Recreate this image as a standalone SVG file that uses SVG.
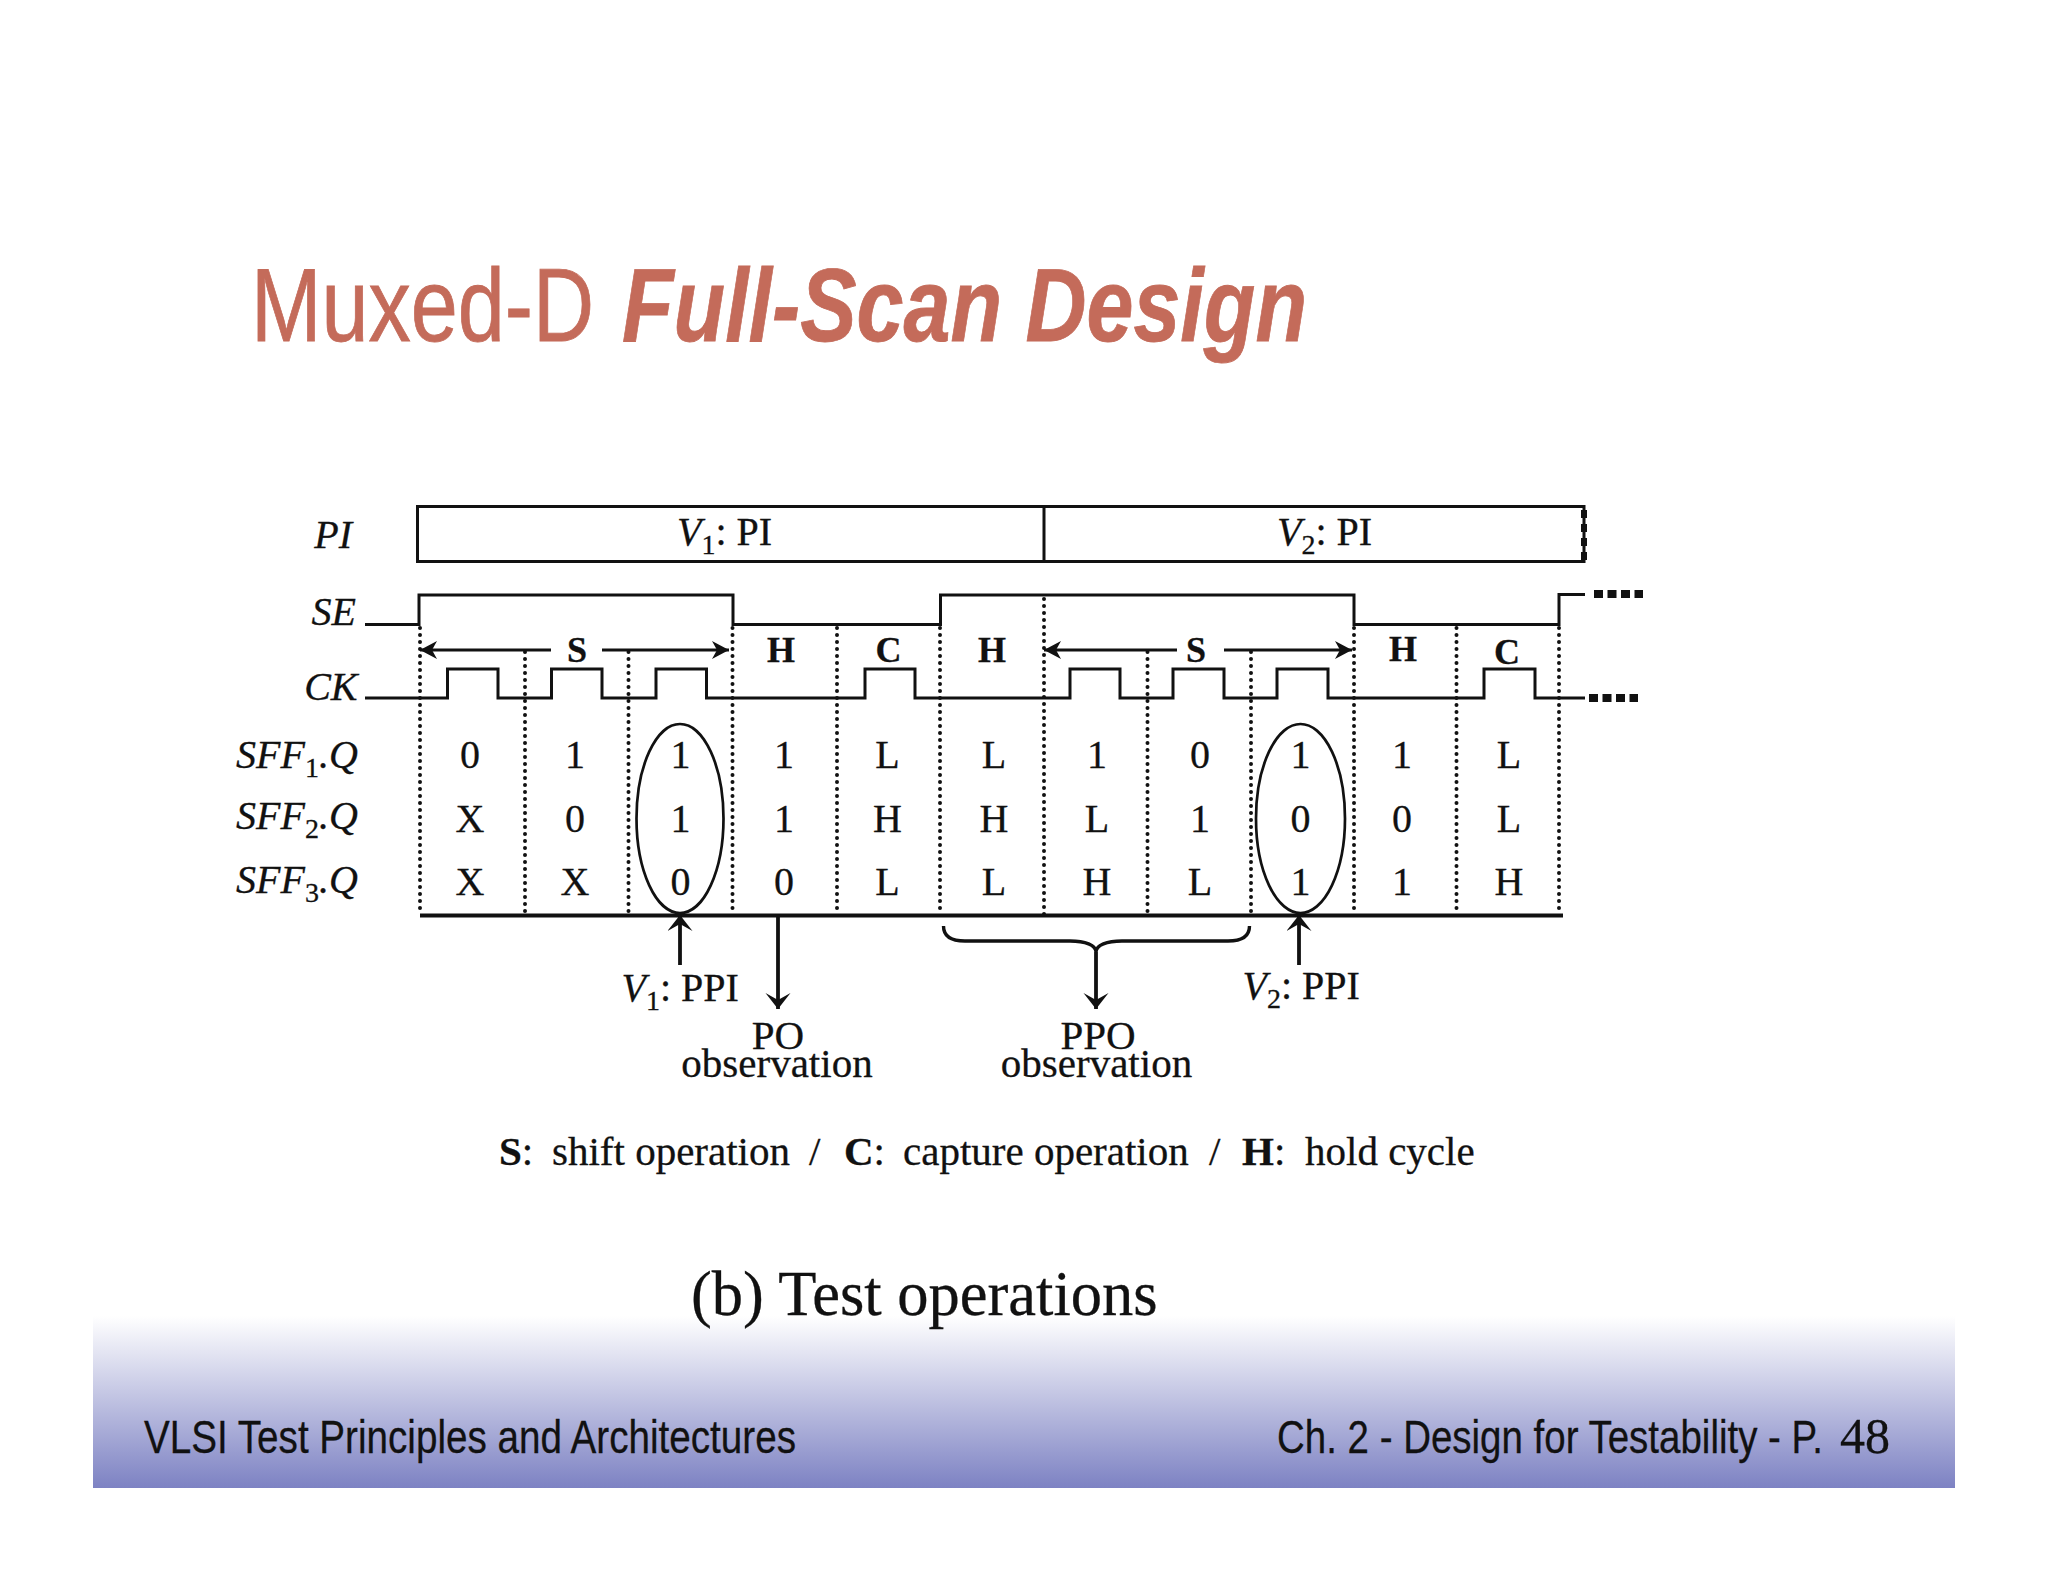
<svg xmlns="http://www.w3.org/2000/svg" width="2048" height="1582" viewBox="0 0 2048 1582">
<style>
.t{font-family:"Liberation Serif","Times New Roman",serif;font-size:40px;fill:#111;stroke:#111;stroke-width:.3}
.i{font-style:italic}
.b{font-weight:bold;font-size:36px}
.c{text-anchor:middle}
.s{font-size:28px}
.w{fill:none;stroke:#111;stroke-width:3}
.d{fill:none;stroke:#111;stroke-width:4;stroke-linecap:round;stroke-dasharray:0 7}
.h{fill:none;stroke:#111;stroke-width:3;marker-end:url(#ah)}
.v{fill:none;stroke:#111;stroke-width:3.800;marker-end:url(#av)}
.f{font-family:"Liberation Sans",Arial,sans-serif;font-size:46px;fill:#111;stroke:#111;stroke-width:.3}
.n{font-size:41px}
</style>
<defs>
<linearGradient id="g" x1="0" y1="0" x2="0" y2="1"><stop offset="0" stop-color="#fff"/><stop offset="1" stop-color="#7d82c3"/></linearGradient>
<marker id="ah" markerWidth="20" markerHeight="20" refX="17" refY="9" orient="auto" markerUnits="userSpaceOnUse"><path d="M0 0L17 9L0 18L5 9Z" fill="#111"/></marker>
<marker id="av" markerWidth="18" markerHeight="26" refX="16" refY="12.500" orient="auto" markerUnits="userSpaceOnUse"><path d="M0 0L16 12.500L0 25L7 12.500Z" fill="#111"/></marker>
</defs>
<rect width="2048" height="1582" fill="#fff"/>
<rect id="footer-band" x="93" y="1316" width="1862" height="172" fill="url(#g)"/>
<g id="title"><text y="341" font-family="'Liberation Sans',Arial,sans-serif" font-size="103" fill="#c46b5a" stroke="#c46b5a" stroke-width=".8"><tspan x="251" textLength="343" lengthAdjust="spacingAndGlyphs">Muxed-D</tspan><tspan x="622" textLength="685" lengthAdjust="spacingAndGlyphs" font-weight="bold" font-style="italic">Full-Scan Design</tspan></text></g>
<g id="connectors">
<path class="w" d="M417.500 506.500H1584V561.500H417.500ZM1044 506.500V561.500"/>
<path d="M1584 510V561" fill="none" stroke="#111" stroke-width="6" stroke-dasharray="8 6"/>
<path class="w" d="M365 624.500H419V595H733V624.500H940.500V595H1354V624.500H1559V594.500H1585"/>
<path d="M1594 594H1643M1589 698H1638" fill="none" stroke="#111" stroke-width="8" stroke-dasharray="9 4.500"/>
<path class="w" d="M365 698H447.500V669H498V698H551.500V669H602V698H656V669H706.500V698H865V669H915V698H1070V669H1120V698H1173V669H1224V698H1277V669H1328V698H1484V669H1535V698H1585"/>
<path class="d" d="M420 628V915M525 652V915M628.500 652V915M732.500 628V915M837 628V915M940 628V915M1044 599V915M1147.500 652V915M1251 652V915M1354 628V915M1456.500 628V915M1559 628V915"/>
<path d="M420 915.500H1563" fill="none" stroke="#111" stroke-width="4"/>
<path class="h" d="M551 650H420"/>
<path class="h" d="M602 650H729"/>
<path class="h" d="M1177 650H1044"/>
<path class="h" d="M1224 650H1352"/>
<ellipse class="w" style="stroke-width:2.700" cx="680" cy="818.500" rx="43.500" ry="94.500"/>
<ellipse class="w" style="stroke-width:2.700" cx="1300.500" cy="818.500" rx="44.500" ry="94.500"/>
<path class="v" d="M680 965V915"/>
<path class="v" d="M778 917V1009"/>
<path class="v" d="M1299 965V915"/>
<path class="v" d="M1096 952V1009"/>
<path class="w" style="stroke-width:3.400" d="M943.500 926C943.500 936 950 941 965 941H1070C1085 941 1096 945 1096 952C1096 945 1107 941 1122 941H1228C1243 941 1249.500 936 1249.500 926"/>
</g>
<g id="labels">
<text class="t i" x="352" y="548" text-anchor="end">PI</text>
<text class="t i" x="356" y="625" text-anchor="end">SE</text>
<text class="t i" x="357.500" y="700" text-anchor="end">CK</text>
<text class="t i" x="236" y="768">SFF<tspan class="s" dy="9" font-style="normal">1</tspan><tspan dy="-9">.Q</tspan></text>
<text class="t i" x="236" y="829">SFF<tspan class="s" dy="9" font-style="normal">2</tspan><tspan dy="-9">.Q</tspan></text>
<text class="t i" x="236" y="893">SFF<tspan class="s" dy="9" font-style="normal">3</tspan><tspan dy="-9">.Q</tspan></text>
<text class="t" x="677" y="545"><tspan class="i">V</tspan><tspan class="s" dy="9">1</tspan><tspan dy="-9">: PI</tspan></text>
<text class="t" x="1277" y="545"><tspan class="i">V</tspan><tspan class="s" dy="9">2</tspan><tspan dy="-9">: PI</tspan></text>
<text class="t b c" x="577" y="662">S</text><text class="t b c" x="781" y="662">H</text><text class="t b c" x="888.500" y="662">C</text><text class="t b c" x="992" y="662">H</text><text class="t b c" x="1196" y="662">S</text><text class="t b c" x="1403" y="661">H</text><text class="t b c" x="1507" y="664">C</text>
</g>
<g id="table">
<text class="t c" x="470" y="768">0</text><text class="t c" x="575" y="768">1</text><text class="t c" x="680.500" y="768">1</text><text class="t c" x="784" y="768">1</text><text class="t c" x="887.500" y="768">L</text><text class="t c" x="994" y="768">L</text><text class="t c" x="1097" y="768">1</text><text class="t c" x="1200" y="768">0</text><text class="t c" x="1300.500" y="768">1</text><text class="t c" x="1402" y="768">1</text><text class="t c" x="1509" y="768">L</text>
<text class="t c" x="470" y="832">X</text><text class="t c" x="575" y="832">0</text><text class="t c" x="680.500" y="832">1</text><text class="t c" x="784" y="832">1</text><text class="t c" x="887.500" y="832">H</text><text class="t c" x="994" y="832">H</text><text class="t c" x="1097" y="832">L</text><text class="t c" x="1200" y="832">1</text><text class="t c" x="1300.500" y="832">0</text><text class="t c" x="1402" y="832">0</text><text class="t c" x="1509" y="832">L</text>
<text class="t c" x="470" y="895">X</text><text class="t c" x="575" y="895">X</text><text class="t c" x="680.500" y="895">0</text><text class="t c" x="784" y="895">0</text><text class="t c" x="887.500" y="895">L</text><text class="t c" x="994" y="895">L</text><text class="t c" x="1097" y="895">H</text><text class="t c" x="1200" y="895">L</text><text class="t c" x="1300.500" y="895">1</text><text class="t c" x="1402" y="895">1</text><text class="t c" x="1509" y="895">H</text>
</g>
<g id="annotations">
<text class="t" x="621.500" y="1001"><tspan class="i">V</tspan><tspan class="s" dy="9">1</tspan><tspan dy="-9">: PPI</tspan></text>
<text class="t" x="1242.500" y="999"><tspan class="i">V</tspan><tspan class="s" dy="9">2</tspan><tspan dy="-9">: PPI</tspan></text>
<text class="t c n" x="778" y="1049">PO</text><text class="t c n" x="777" y="1077">observation</text>
<text class="t c n" x="1098" y="1049">PPO</text><text class="t c n" x="1096.500" y="1077">observation</text>
<text class="t n" y="1165"><tspan x="499" font-weight="bold">S</tspan><tspan>:</tspan><tspan x="552">shift operation</tspan><tspan x="809">/</tspan><tspan x="844" font-weight="bold">C</tspan><tspan>:</tspan><tspan x="903">capture operation</tspan><tspan x="1209">/</tspan><tspan x="1242" font-weight="bold">H</tspan><tspan>:</tspan><tspan x="1305">hold cycle</tspan></text>
<text class="t" x="691" y="1315" style="font-size:62.500px">(b) Test operations</text>
</g>
<g id="footer">
<text class="f" x="144" y="1453" textLength="652" lengthAdjust="spacingAndGlyphs">VLSI Test Principles and Architectures</text>
<text class="f" x="1277" y="1453" textLength="546" lengthAdjust="spacingAndGlyphs">Ch. 2 - Design for Testability - P.</text>
<text class="f" x="1840" y="1453" style="font-family:'Liberation Serif',serif;font-size:50px">48</text>
</g>
</svg>
